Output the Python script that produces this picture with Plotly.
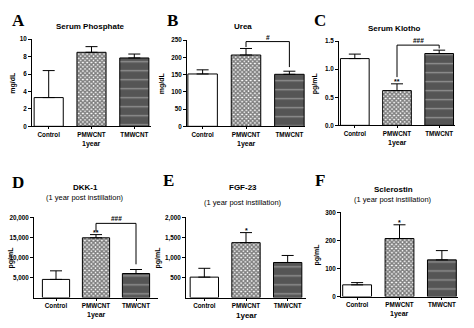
import plotly.graph_objects as go

W, H = 474, 328

groups = ["Control", "PMWCNT", "TMWCNT"]

# Panel values (mean, upper error length)
phosphate = [3.3, 8.5, 7.85]
phosphate_err = [3.1, 0.65, 0.45]
urea = [152, 207, 151]
urea_err = [12, 19, 9]
klotho = [1.19, 0.62, 1.28]
klotho_err = [0.08, 0.12, 0.06]
dkk1 = [4530, 14900, 6000]
dkk1_err = [2140, 800, 1000]
fgf23 = [510, 1370, 875]
fgf23_err = [220, 250, 175]
sclerostin = [42, 207, 131]
sclerostin_err = [8, 49, 33]

letters = ["A", "B", "C", "D", "E", "F"]
titles = ["Serum Phosphate", "Urea", "Serum Klotho", "DKK-1", "FGF-23", "Sclerostin"]
subtitles = ["", "", "", "(1 year post instillation)", "(1 year post instillation)",
             "(1 year post instillation)"]
units = ["mg/dL", "mg/dL", "pg/mL", "pg/mL", "pg/mL", "pg/mL"]
xlabel = "1year"

y_ranges = [[0, 10], [0, 250], [0, 1.5], [0, 20000], [0, 2000], [0, 300]]
y_tickvals = [[0, 2, 4, 6, 8, 10], [0, 50, 100, 150, 200, 250], [0, 0.5, 1.0, 1.5],
              [5000, 10000, 15000, 20000], [500, 1000, 1500, 2000], [0, 100, 200, 300]]
y_ticktext = [["0", "2", "4", "6", "8", "10"], ["0", "50", "100", "150", "200", "250"],
              ["0.0", "0.5", "1.0", "1.5"], ["5,000", "10,000", "15,000", "20,000"],
              ["500", "1,000", "1,500", "2,000"], ["0", "100", "200", "300"]]

means = [phosphate, urea, klotho, dkk1, fgf23, sclerostin]
errs = [phosphate_err, urea_err, klotho_err, dkk1_err, fgf23_err, sclerostin_err]

# significance stars: (panel, group, label)
stars = [(2, 1, "**"), (3, 1, "**"), (4, 1, "*"), (5, 1, "*")]
# brackets: (panel, left leg bottom, top, right leg bottom, label)
brackets = [(1, 230, 246, 172, "#"),
            (2, 0.86, 1.43, 1.37, "###"),
            (3, 16600, 18500, 8300, "###")]

# plot-area pixel boxes: (y-axis line x, right edge, bottom, top, left x-range)
boxes = [(32, 151, 125, 36, -0.39), (187, 305, 125, 37, -0.36), (339, 455, 124, 38, -0.375),
         (34, 158, 300, 218, -0.55), (186, 306, 300, 218, -0.44), (341, 458, 299, 213, -0.38)]

bar_styles = [
    dict(color="white", line=dict(color="black", width=1)),
    dict(color="white", line=dict(color="black", width=1),
         pattern=dict(shape="x", fgcolor="#000000", bgcolor="white", size=3, solidity=0.75)),
    dict(color="#555555", line=dict(color="black", width=1),
         pattern=dict(shape="-", fgcolor="#cfcfcf", bgcolor="#555555", size=9, solidity=0.15)),
]

FONT = "Liberation Sans"
SERIF = "Liberation Serif"
fig = go.Figure()
layout = dict(width=W, height=H, margin=dict(l=0, r=0, t=0, b=0),
              paper_bgcolor="white", plot_bgcolor="white", showlegend=False,
              annotations=[], shapes=[])


def px(x):
    return x / W


def py(y):
    return 1 - y / H


def note(text, x, y, size, family=FONT, angle=0, weight="normal"):
    layout["annotations"].append(dict(
        text=text, x=px(x), y=py(y), xref="paper", yref="paper", xanchor="center",
        yanchor="middle", showarrow=False, textangle=angle,
        font=dict(family=family, size=size, color="#000000", weight=weight)))


letter_pos = [(18, 17), (172, 17), (320, 17), (18, 182), (168, 180), (320, 180)]
title_pos = [(90, 23), (243, 23), (394, 25), (85, 187), (243, 187), (393, 190)]
sub_y = [0, 0, 0, 198, 203, 200]
unit_x = [13, 162, 315, 11, 158, 317]

for i in range(6):
    xl, xr, yb, yt, x0 = boxes[i]
    n = "" if i == 0 else str(i + 1)
    xa, ya = "x" + n, "y" + n
    for g in range(3):
        fig.add_trace(go.Bar(
            x=[g], y=[means[i][g]], xaxis=xa, yaxis=ya, width=0.68,
            marker=bar_styles[g],
            error_y=dict(type="data", symmetric=False, array=[errs[i][g]], arrayminus=[0],
                         color="black", thickness=1, width=6),
        ))
    x1 = 2 - x0
    layout["xaxis" + n] = dict(
        domain=[px(xl), px(xr)], anchor=ya, range=[x0, x1],
        tickvals=[0, 1, 2], ticktext=groups, showline=True, linecolor="black", linewidth=1,
        ticks="outside", ticklen=2, tickcolor="black", showgrid=False, zeroline=False,
        tickfont=dict(family=FONT, size=6.3, color="black", weight="bold"),
    )
    layout["yaxis" + n] = dict(
        domain=[py(yb), py(yt)], anchor=xa, range=y_ranges[i],
        tickvals=y_tickvals[i], ticktext=y_ticktext[i], showline=True, linecolor="black",
        linewidth=1, ticks="outside", ticklen=3, tickcolor="black", showgrid=False,
        zeroline=False, tickfont=dict(family=FONT, size=6.3, color="black", weight="bold"),
    )
    note(letters[i], *letter_pos[i], 17, family=SERIF, weight="bold")
    note(titles[i], *title_pos[i], 8, weight="bold")
    if subtitles[i]:
        note(subtitles[i], title_pos[i][0], sub_y[i], 7.5)
    note(units[i], unit_x[i], (yb + yt) / 2, 7, angle=-90, weight="bold")
    # x-axis caption under the middle category
    layout["annotations"].append(dict(
        text=xlabel, x=1, y=py(yb + 18), xref=xa, yref="paper",
        xanchor="center", yanchor="middle", showarrow=False,
        font=dict(family=FONT, size=7 if i != 4 else 8, color="black", weight="bold")))

for (i, g, label) in stars:
    n = "" if i == 0 else str(i + 1)
    top = means[i][g] + errs[i][g]
    layout["annotations"].append(dict(text=label, x=g, y=top, xref="x" + n,
                                      yref="y" + n, xanchor="center", yanchor="bottom",
                                      yshift=-3, showarrow=False,
                                      font=dict(family=FONT, size=7, color="black",
                                                weight="bold")))

for (i, yl, ytop, yr, label) in brackets:
    n = "" if i == 0 else str(i + 1)
    layout["shapes"].append(dict(type="path", xref="x" + n, yref="y" + n,
                                 path="M 1 %s L 1 %s L 2 %s L 2 %s" % (yl, ytop, ytop, yr),
                                 line=dict(color="black", width=1)))
    layout["annotations"].append(dict(text=label, x=1.5, y=ytop, xref="x" + n,
                                      yref="y" + n, xanchor="center", yanchor="bottom",
                                      yshift=-1, showarrow=False,
                                      font=dict(family=FONT, size=6.5, color="black",
                                                weight="bold")))

fig.update_layout(**layout)
fig.write_html("out.html")
